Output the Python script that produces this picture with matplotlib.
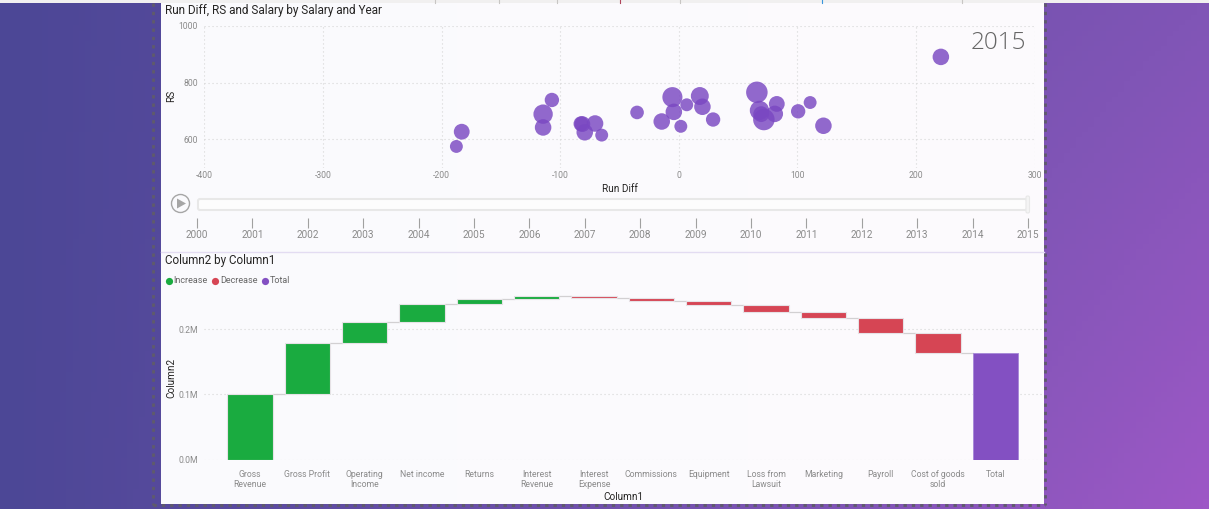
import matplotlib
matplotlib.use("Agg")
import matplotlib.pyplot as plt
import matplotlib.patches as patches
from matplotlib.lines import Line2D
from matplotlib.colors import LinearSegmentedColormap
import numpy as np

W, H = 1209, 509

# bubble chart, 2015 frame
run_diff = [-187.5, -183, -114.4, -107, -114.4, -82.4, -81.3, -79.3, -70.6, -65,
            -35.2, -14.4, -5.4, -4.2, 1.7, 6.7, 17.7, 19.9, 28.9,
            65.8, 68, 71.7, 69.4, 80.9, 82.6, 100.6, 110.7, 121.9, 220.9]
rs = [575, 627, 689, 739, 642, 655, 654, 625, 656, 615,
      695, 663, 749, 697, 646, 722, 753, 715, 670,
      766, 702, 670, 689, 690, 725, 699, 730, 648, 891]
salary = [72, 108, 162, 89, 118, 98, 108, 118, 118, 72,
          80, 118, 174, 118, 72, 72, 139, 118, 89,
          200, 162, 200, 108, 118, 108, 89, 72, 118, 118]
years = list(range(2000, 2016))

# waterfall
steps = ["Gross\nRevenue", "Gross Profit", "Operating\nIncome", "Net income", "Returns",
         "Interest\nRevenue", "Interest\nExpense", "Commissions", "Equipment",
         "Loss from\nLawsuit", "Marketing", "Payroll", "Cost of goods\nsold", "Total"]
deltas = [100, 78, 33.2, 26.6, 7.6, 4.6, -2.2, -4.4, -7.2, -9.2, -9.7, -23.9, -30.1]
legend_names = ["Increase", "Decrease", "Total"]

GREEN, RED, PURPLE = "#1aab40", "#d64554", "#8350c2"
TICK = "#8a8a8a"
DARK = "#252423"
GRID = "#d6d6d6"
plt.rcParams["font.family"] = ["Roboto", "DejaVu Sans"]


def px_axes(fig, left, top, right, bottom):
    return fig.add_axes([left / W, 1 - bottom / H, (right - left) / W, (bottom - top) / H])


fig = plt.figure(figsize=(W / 100, H / 100), dpi=100)

# page background gradient, darker on the left whatever the height
bg = fig.add_axes([0, 0, 1, 1])
bg.set_axis_off()
xx, yy = np.meshgrid(np.linspace(0, 1, 200), np.linspace(0, 1, 100))
cmap = LinearSegmentedColormap.from_list("page", [(0, "#4c4796"), (0.7, "#8055b6"), (1, "#9d58c6")])
bg.imshow(xx * (0.7 + 0.3 * yy), extent=(0, W, H, 0), cmap=cmap, aspect="auto", vmin=0, vmax=1)

# report page and its frame
page = LinearSegmentedColormap.from_list("panel", ["#fafafd", "#fdfbfe"])
bg.imshow(xx, extent=(161, 1044, 504, 3), cmap=page, aspect="auto", vmin=0, vmax=1)
bg.set_xlim(0, W)
bg.set_ylim(H, 0)
bg.add_patch(patches.Rectangle((0, 0), W, 3, color="#f1f0f0", lw=0))
for x, c in [(435, "#c8c6c4"), (499, "#c8c6c4"), (557, "#c8c6c4"), (620, "#b0455c"),
             (680, "#c8c6c4"), (822, "#3a96dd"), (962, "#c8c6c4")]:
    bg.plot([x, x], [0, 3], color=c, lw=0.8)
frame = dict(color="#5f5b6b", lw=2, ls=(0, (1.2, 1.8)))
bg.plot([153, 153], [3, 505], **frame)
bg.plot([153, 1045], [505, 505], **frame)
bg.plot([1045, 1045], [3, 505], **frame)
bg.plot([161, 1044], [252, 252], color="#e3dcf2", lw=1)

# titles
bg.text(165, 10.5, "Run Diff, RS and Salary by Salary and Year", fontsize=8.5, color=DARK, va="center")
bg.text(165, 260.5, "Column2 by Column1", fontsize=8.4, color=DARK, va="center")

# legend
for (cx, tx), name, c in zip([(168.7, 173.5), (215, 219.8), (264.7, 269.5)], legend_names, [GREEN, RED, PURPLE]):
    bg.add_line(Line2D([cx], [280.5], marker="o", ms=5.2, color=c, mew=0))
    bg.text(tx, 280.5, name, fontsize=6.5, color="#666666", va="center")

# play axis
bg.add_patch(patches.Circle((180.5, 203.5), 9, fc="none", ec="#a6a6a6", lw=1))
bg.add_patch(patches.Polygon([(177, 198.5), (177, 208.5), (186, 203.5)], color="#a6a6a6", lw=0))
bg.add_patch(patches.FancyBboxPatch((198, 199), 829, 11, boxstyle="round,pad=0,rounding_size=2",
                                    fc="#fdfdfd", ec="#e8e8e8", lw=1.5))
bg.add_patch(patches.FancyBboxPatch((1026, 196), 3.5, 17, boxstyle="round,pad=0,rounding_size=1.5",
                                    fc="#f4f4f4", ec="#e8e8e8", lw=0.8))

ax_play = px_axes(fig, 197, 217, 1028, 218)
ax_play.patch.set_visible(False)
ax_play.set_xlim(2000, 2015)
ax_play.set_yticks([])
for s in ax_play.spines.values():
    s.set_visible(False)
ax_play.set_xticks(years)
ax_play.tick_params(axis="x", direction="out", length=7.5, width=0.8, color="#a0a0a0",
                    labelcolor=TICK, labelsize=7.2, pad=1.2)

# bubble chart
ax = px_axes(fig, 204.3, 26, 1034.7, 167.7)
ax.patch.set_visible(False)
ax.scatter(run_diff, rs, s=np.array(salary) * 1.2, color="#7a48c2", alpha=0.82, lw=0, zorder=3, clip_on=False)
ax.set_xlim(-400, 300)
ax.set_ylim(500, 1000)
ax.set_xticks(range(-400, 301, 100))
ax.set_yticks([600, 800, 1000])
ax.grid(True, color=GRID, lw=0.8, ls=(0, (1, 2.6)))
ax.set_axisbelow(True)
for s in ax.spines.values():
    s.set_visible(False)
ax.tick_params(length=0, labelsize=6.2, labelcolor=TICK)
ax.tick_params(axis="x", pad=2.5)
ax.tick_params(axis="y", pad=4.5)
ax.set_xticklabels([str(v) for v in range(-400, 301, 100)])
bg.text(171.5, 96, "RS", rotation=90, fontsize=7.2, color=DARK, ha="center", va="center")
bg.text(620, 188.5, "Run Diff", fontsize=7.2, color=DARK, ha="center", va="center")
bg.text(1026, 43, "2015", fontsize=17.5, color="#666666", ha="right", va="center",
        family=["Open Sans", "DejaVu Sans"], fontweight="light")

# waterfall chart, running levels come from the deltas
ax2 = px_axes(fig, 204.3, 276.9, 1041.7, 459.7)
ax2.patch.set_visible(False)
levels = np.cumsum(deltas) / 1000
starts = np.concatenate([[0], levels[:-1]])
xpos = np.arange(len(steps))
colors = [GREEN if d > 0 else RED for d in deltas]
bw = 45.3 / 57.3
ax2.bar(xpos[:-1], levels - starts, bottom=starts, width=bw, color=colors,
        edgecolor="#e6e2e6", linewidth=0.8, zorder=3)
ax2.bar(xpos[-1], levels[-1], width=bw, color=PURPLE, edgecolor="#a98bd8", linewidth=0.7, zorder=3)
for i, lv in enumerate(levels):
    ax2.plot([i + bw / 2, i + 1 - bw / 2], [lv, lv], color="#d2d0d2", lw=0.9, zorder=2)
ax2.set_xlim(-0.8, 13.81)
ax2.set_ylim(0, 0.28)
ax2.set_yticks([0, 0.1, 0.2])
ax2.set_yticklabels(["0.0M", "0.1M", "0.2M"])
ax2.set_xticks(xpos)
ax2.set_xticklabels(steps, linespacing=1.25)
ax2.grid(True, axis="y", color=GRID, lw=0.8, ls=(0, (1, 2.6)))
ax2.set_axisbelow(True)
for s in ax2.spines.values():
    s.set_visible(False)
ax2.tick_params(length=0, labelsize=6.2, labelcolor=TICK)
ax2.tick_params(axis="x", pad=7.2)
ax2.tick_params(axis="y", pad=4.5)
bg.text(171.5, 378, "Column2", rotation=90, fontsize=7.2, color=DARK, ha="center", va="center")
bg.text(623, 496.5, "Column1", fontsize=7.2, color=DARK, ha="center", va="center")

fig.savefig("out.png", dpi=100)
